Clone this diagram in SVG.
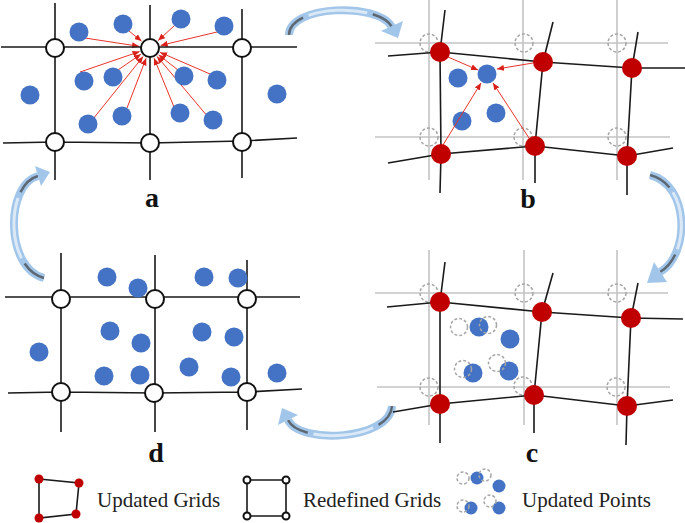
<svg xmlns="http://www.w3.org/2000/svg" width="685" height="523" viewBox="0 0 685 523">
<style>
.blk{stroke:#1a1a1a;stroke-width:1.6;fill:none}
.gry{stroke:#c4c4c4;stroke-width:1.6;fill:none}
.wn{fill:#fff;stroke:#111;stroke-width:2}
.rn{fill:#c00000}
.bd{fill:#4472c4}
.dc{fill:none;stroke:#a6a6a6;stroke-width:1.5;stroke-dasharray:3 2}
.ra{stroke:#e8332a;stroke-width:1;fill:none;marker-end:url(#rh)}
.band{stroke:#a2c6ea;stroke-width:8;fill:none}
.core{stroke:#dbe9f7;stroke-width:3;fill:none}
.dark{stroke:#5d6873;stroke-width:2.5;fill:none;stroke-dasharray:20 60 20}
.head{fill:#a2c6ea}
.lab{font-family:"Liberation Serif","Times New Roman",serif;font-weight:bold;font-size:28px;fill:#111;text-anchor:middle}
.leg{font-family:"Liberation Serif","Times New Roman",serif;font-size:21px;fill:#222}
</style>
<defs>
<marker id="rh" markerWidth="7" markerHeight="6" refX="7" refY="3" orient="auto" markerUnits="userSpaceOnUse">
<path d="M0,0 L7,3 L0,6 Z" fill="#d9201a"/>
</marker>
</defs>

<g id="connectors">
<g id="cycle-ab">
<path class="band" d="M289,35 C289,5 378,2 392,27"/>
<path class="core" d="M289,35 C289,5 378,2 392,27" pathLength="100" stroke-dasharray="0 25 50 25"/>
<path class="dark" d="M289,35 C289,5 378,2 392,27" pathLength="100"/>
<polygon class="head" points="381,31 403,21 398,38"/>
</g>
<g id="cycle-bc">
<path class="band" d="M650,175 C690,185 690,255 660,272"/>
<path class="core" d="M650,175 C690,185 690,255 660,272" pathLength="100" stroke-dasharray="0 25 50 25"/>
<path class="dark" d="M650,175 C690,185 690,255 660,272" pathLength="100"/>
<polygon class="head" points="654,262 667,282 647,283"/>
</g>
<g id="cycle-cd">
<path class="band" d="M392,406 C390,440 300,445 288,420"/>
<path class="core" d="M392,406 C390,440 300,445 288,420" pathLength="100" stroke-dasharray="0 25 50 25"/>
<path class="dark" d="M392,406 C390,440 300,445 288,420" pathLength="100"/>
<polygon class="head" points="298,415 278,425 282,408"/>
</g>
<g id="cycle-da">
<path class="band" d="M44,278 C5,268 5,185 38,176"/>
<path class="core" d="M44,278 C5,268 5,185 38,176" pathLength="100" stroke-dasharray="0 25 50 25"/>
<path class="dark" d="M44,278 C5,268 5,185 38,176" pathLength="100"/>
<polygon class="head" points="41,186 35,166 50,172"/>
</g>

<g id="panel-a-arrows">
<line class="ra" x1="85" y1="38" x2="139" y2="46.3"/>
<line class="ra" x1="129" y1="31" x2="141.5" y2="41.1"/>
<line class="ra" x1="174" y1="26" x2="158.1" y2="40.6"/>
<line class="ra" x1="217" y1="32" x2="160.7" y2="45.4"/>
<line class="ra" x1="80" y1="72" x2="139.6" y2="51.6"/>
<line class="ra" x1="118" y1="70" x2="140.9" y2="54.2"/>
<line class="ra" x1="178" y1="70" x2="158.6" y2="54.8"/>
<line class="ra" x1="210" y1="74" x2="160.1" y2="52.4"/>
<line class="ra" x1="93" y1="119" x2="143.1" y2="56.6"/>
<line class="ra" x1="127" y1="108" x2="146.1" y2="58.3"/>
<line class="ra" x1="174" y1="107" x2="154.1" y2="58.2"/>
<line class="ra" x1="208" y1="117" x2="157.1" y2="56.4"/>
</g>
</g>

<!-- Panel a -->
<g id="panel-a">
<path class="blk" d="M1,47 L297,47 M3,143 L55,142 L150,143 L242,141 L297,138 M55,3 L55,180 M150,5 L150,180 M242,9 L242,178"/>
<g id="a-points">
<circle class="bd" cx="79" cy="32" r="9.5"/>
<circle class="bd" cx="123" cy="24" r="9.5"/>
<circle class="bd" cx="181" cy="19" r="9.5"/>
<circle class="bd" cx="224" cy="26" r="9.5"/>
<circle class="bd" cx="84" cy="81" r="9.5"/>
<circle class="bd" cx="113" cy="77" r="9.5"/>
<circle class="bd" cx="184" cy="76" r="9.5"/>
<circle class="bd" cx="217" cy="80" r="9.5"/>
<circle class="bd" cx="30" cy="95" r="9.5"/>
<circle class="bd" cx="277" cy="94" r="9.5"/>
<circle class="bd" cx="88" cy="124" r="9.5"/>
<circle class="bd" cx="122" cy="116" r="9.5"/>
<circle class="bd" cx="180" cy="113" r="9.5"/>
<circle class="bd" cx="213" cy="120" r="9.5"/>
</g>
<circle class="wn" cx="55" cy="48" r="9"/>
<circle class="wn" cx="150" cy="48" r="9"/>
<circle class="wn" cx="242" cy="48" r="9"/>
<circle class="wn" cx="55" cy="142" r="9"/>
<circle class="wn" cx="150" cy="143" r="9"/>
<circle class="wn" cx="242" cy="142" r="9"/>
<text class="lab" x="152" y="207">a</text>
</g>

<!-- Panel b -->
<g id="panel-b">
<path class="gry" d="M375,43 L668,43 M375,137 L670,137 M429,0 L429,180 M523,0 L523,180 M617,0 L617,180"/>
<circle class="dc" cx="429" cy="43" r="9"/>
<circle class="dc" cx="524" cy="43" r="9"/>
<circle class="dc" cx="617" cy="43" r="9"/>
<circle class="dc" cx="429" cy="137" r="9"/>
<circle class="dc" cx="523" cy="137" r="9"/>
<circle class="dc" cx="617" cy="137" r="9"/>
<path class="blk" d="M388,56 L440,52 L543,62 L632,68 L685,68 M388,163 L441,154 L535,146 L627,156 L673,148 M445,10 L440,52 L441,154 L440,193 M553,22 L543,62 L535,146 L535,183 M638,32 L632,68 L627,156 L627,195"/>
<circle class="bd" cx="458" cy="78" r="9.5"/>
<circle class="bd" cx="487" cy="74" r="9.5"/>
<circle class="bd" cx="462" cy="121" r="9.5"/>
<circle class="bd" cx="496" cy="113" r="9.5"/>
<line class="ra" x1="448" y1="57" x2="478" y2="70"/>
<line class="ra" x1="533" y1="63" x2="497" y2="69"/>
<line class="ra" x1="443" y1="145" x2="481" y2="83"/>
<line class="ra" x1="529" y1="138" x2="493" y2="83"/>
<circle class="rn" cx="440" cy="52" r="10"/>
<circle class="rn" cx="543" cy="62" r="10"/>
<circle class="rn" cx="632" cy="68" r="10"/>
<circle class="rn" cx="441" cy="154" r="10"/>
<circle class="rn" cx="535" cy="146" r="10"/>
<circle class="rn" cx="627" cy="156" r="10"/>
<text class="lab" x="528" y="208">b</text>
</g>

<!-- Panel c -->
<g id="panel-c">
<path class="gry" d="M375,293 L668,293 M377,387 L670,387 M429,250 L429,425 M524,250 L524,425 M617,250 L617,425"/>
<circle class="dc" cx="429" cy="293" r="9"/>
<circle class="dc" cx="524" cy="293" r="9"/>
<circle class="dc" cx="617" cy="293" r="9"/>
<circle class="dc" cx="429" cy="387" r="9"/>
<circle class="dc" cx="523" cy="386" r="9"/>
<circle class="dc" cx="616" cy="387" r="9"/>
<path class="blk" d="M387,307 L440,302 L542,312 L631,318 L683,319 M393,412 L440,404 L534,395 L627,406 L673,400 M445,262 L440,302 L440,404 L440,443 M553,273 L542,312 L534,395 L534,433 M638,283 L631,318 L627,406 L626,445"/>
<circle class="bd" cx="479" cy="327" r="9.5"/>
<circle class="bd" cx="510" cy="339" r="9.5"/>
<circle class="bd" cx="473" cy="373" r="9.5"/>
<circle class="bd" cx="509" cy="371" r="9.5"/>
<circle class="dc" cx="459" cy="327" r="8.5"/>
<circle class="dc" cx="488" cy="325" r="8.5"/>
<circle class="dc" cx="463" cy="369" r="8.5"/>
<circle class="dc" cx="497" cy="363" r="8.5"/>
<circle class="rn" cx="440" cy="302" r="10"/>
<circle class="rn" cx="542" cy="312" r="10"/>
<circle class="rn" cx="631" cy="318" r="10"/>
<circle class="rn" cx="440" cy="404" r="10"/>
<circle class="rn" cx="534" cy="395" r="10"/>
<circle class="rn" cx="627" cy="406" r="10"/>
<text class="lab" x="532" y="462">c</text>
</g>

<!-- Panel d -->
<g id="panel-d">
<path class="blk" d="M5,297 L300,297 M8,393 L61,392 L154,393 L247,392 L302,389 M61,253 L61,432 M155,255 L155,432 M247,260 L247,430"/>
<circle class="bd" cx="107" cy="277" r="9.5"/>
<circle class="bd" cx="138" cy="288" r="9.5"/>
<circle class="bd" cx="204" cy="277" r="9.5"/>
<circle class="bd" cx="238" cy="278" r="9.5"/>
<circle class="bd" cx="110" cy="331" r="9.5"/>
<circle class="bd" cx="141" cy="343" r="9.5"/>
<circle class="bd" cx="202" cy="332" r="9.5"/>
<circle class="bd" cx="234" cy="337" r="9.5"/>
<circle class="bd" cx="39" cy="352" r="9.5"/>
<circle class="bd" cx="104" cy="376" r="9.5"/>
<circle class="bd" cx="140" cy="375" r="9.5"/>
<circle class="bd" cx="189" cy="367" r="9.5"/>
<circle class="bd" cx="231" cy="377" r="9.5"/>
<circle class="bd" cx="277" cy="373" r="9.5"/>
<circle class="wn" cx="61" cy="299" r="9"/>
<circle class="wn" cx="155" cy="299" r="9"/>
<circle class="wn" cx="247" cy="299" r="9"/>
<circle class="wn" cx="61" cy="392" r="9"/>
<circle class="wn" cx="154" cy="393" r="9"/>
<circle class="wn" cx="247" cy="392" r="9"/>
<text class="lab" x="156" y="462">d</text>
</g>

<!-- Legend -->
<g id="legend-updated-grids">
<path class="blk" d="M39,479 L79,483 L76,514 L39,518 Z"/>
<circle class="rn" cx="39" cy="479" r="4.5"/>
<circle class="rn" cx="79" cy="483" r="4.5"/>
<circle class="rn" cx="76" cy="514" r="4.5"/>
<circle class="rn" cx="39" cy="518" r="4.5"/>
<text class="leg" x="97" y="507">Updated Grids</text>
</g>
<g id="legend-redefined-grids">
<path class="blk" d="M247,480 L286,480 L286,516 L247,516 Z"/>
<circle class="wn" cx="247" cy="480" r="3.5" stroke-width="1.5"/>
<circle class="wn" cx="286" cy="480" r="3.5" stroke-width="1.5"/>
<circle class="wn" cx="247" cy="516" r="3.5" stroke-width="1.5"/>
<circle class="wn" cx="286" cy="516" r="3.5" stroke-width="1.5"/>
<text class="leg" x="303" y="507">Redefined Grids</text>
</g>
<g id="legend-updated-points">
<circle class="bd" cx="477" cy="478" r="6.5"/>
<circle class="bd" cx="499" cy="486" r="6.5"/>
<circle class="bd" cx="471" cy="508" r="6.5"/>
<circle class="bd" cx="499" cy="508" r="6.5"/>
<circle class="dc" cx="463" cy="478" r="6" stroke-dasharray="2.5 1.5"/>
<circle class="dc" cx="485" cy="475" r="6" stroke-dasharray="2.5 1.5"/>
<circle class="dc" cx="463" cy="506" r="6" stroke-dasharray="2.5 1.5"/>
<circle class="dc" cx="490" cy="501" r="6" stroke-dasharray="2.5 1.5"/>
<text class="leg" x="522" y="507">Updated Points</text>
</g>
</svg>
